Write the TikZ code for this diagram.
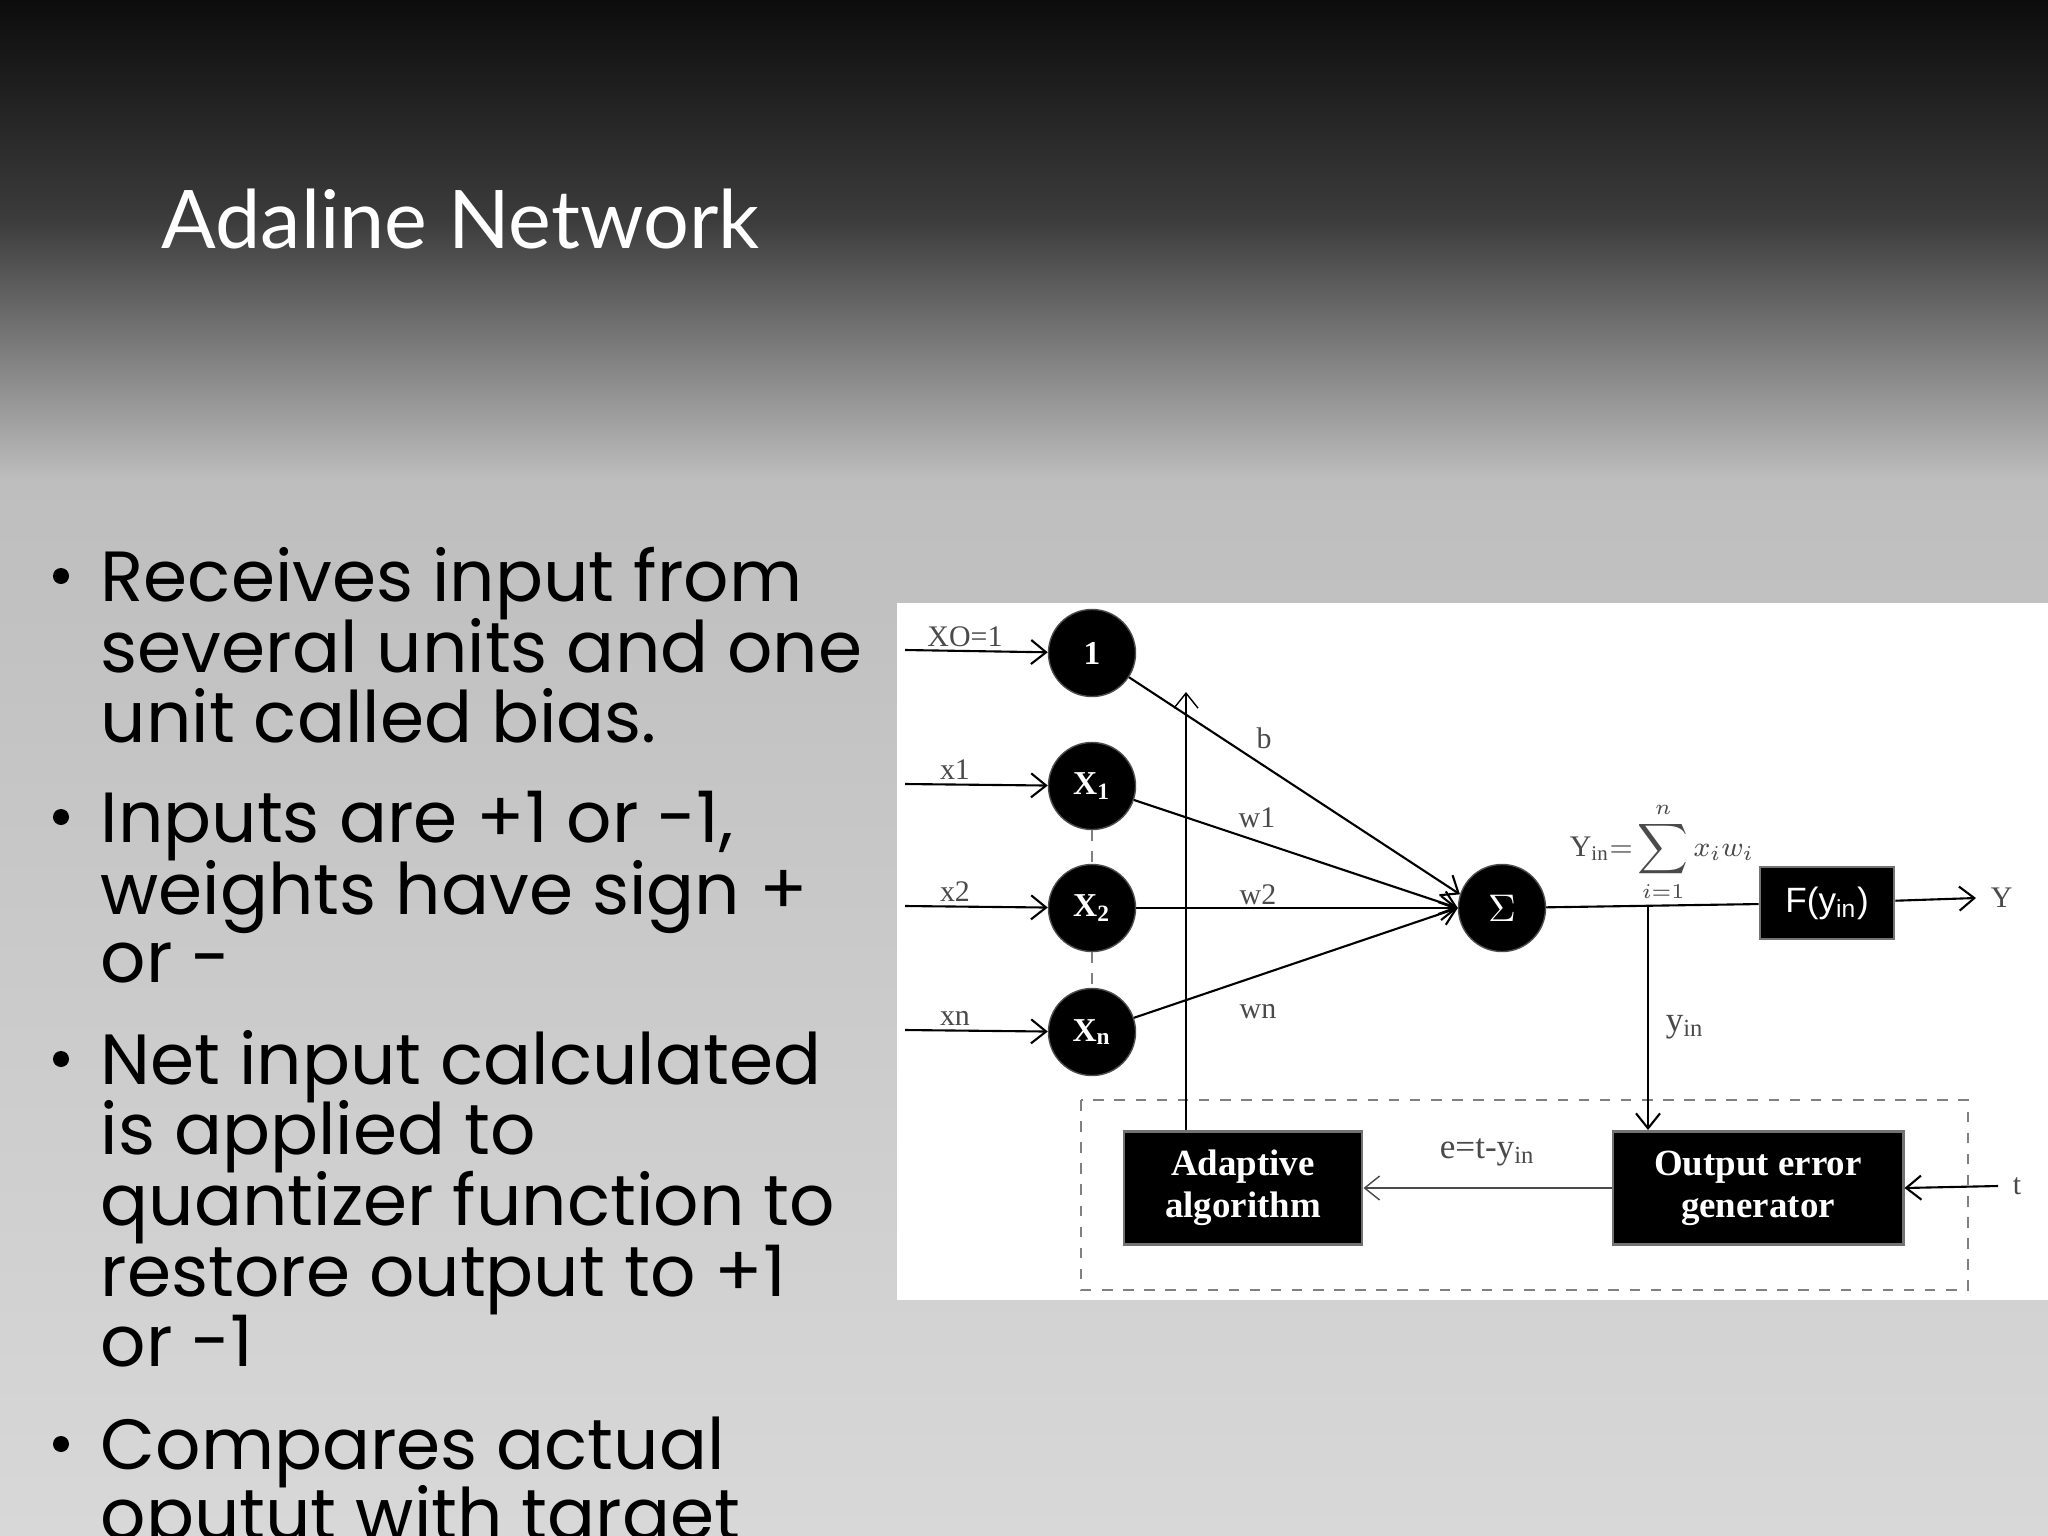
\documentclass[tikz,border=0pt]{standalone}
\usepackage{fontspec}
\setmainfont{Liberation Serif}
\newfontfamily\bodyfont{Poppins}
\newfontfamily\titlefont{Lato}
\newfontfamily\blocksans{Liberation Sans}
\usetikzlibrary{arrows.meta, positioning, calc}

\definecolor{bgA}{HTML}{0C0C0C}
\definecolor{bgB}{HTML}{3C3C3C}
\definecolor{bgC}{HTML}{BEBEBE}
\definecolor{bgD}{HTML}{D8D8D8}
\definecolor{lblgray}{HTML}{4A4A4A}

\tikzset{
  unit/.style={circle, fill=black, draw=black!70, minimum size=0.87cm, inner sep=0pt, text=white, font=\bfseries\fontsize{9.5}{9.5}\selectfont},
  blk/.style={rectangle, fill=black, draw=black!55, line width=0.8pt, text=white, align=center, font=\bfseries\fontsize{10.5}{12}\selectfont},
  lbl/.style={text=lblgray, inner sep=1pt, font=\fontsize{8.5}{8.5}\selectfont},
  wire/.style={->, >={Straight Barb[length=1.5mm, width=2.4mm]}, semithick},
  body/.style={anchor=base west, inner sep=0pt, text=black, font=\bodyfont\fontsize{20.2}{20.2}\selectfont},
  dot/.style={circle, fill=black, minimum size=0.16cm, inner sep=0pt},
}

\begin{document}
\begin{tikzpicture}[x=0.01cm, y=-0.01cm]
    \useasboundingbox (0,0) rectangle (2048,1536);
    \clip (0,0) rectangle (2048,1536);
    \shade[top color=bgA, bottom color=bgB] (0,0) rectangle (2048,221); %背景 上
    \shade[top color=bgB, bottom color=bgC] (0,220) rectangle (2048,481); %背景 中
    \shade[top color=bgC, bottom color=bgD] (0,480) rectangle (2048,1536); %背景 下
    \node[anchor=base west, inner sep=0pt, text=white, font=\titlefont\fontsize{23}{23}\selectfont] (title) at (161,248) {Adaline Network}; %タイトル

    % 箇条書き
    \node[dot] (d1) at (61,576) {};
    \node[body] (l1) at (100,601) {Receives input from};
    \node[body] (l2) at (100,672) {several units and one};
    \node[body] (l3) at (100,742) {unit called bias.};
    \node[dot] (d2) at (61,817) {};
    \node[body] (l4) at (100,842) {Inputs are +1 or -1,};
    \node[body] (l5) at (100,914) {weights have sign +};
    \node[body] (l6) at (100,982) {or -};
    \node[dot] (d3) at (61,1059) {};
    \node[body] (l7) at (100,1084) {Net input calculated};
    \node[body] (l8) at (100,1154) {is applied to};
    \node[body] (l9) at (100,1225) {quantizer function to};
    \node[body] (l10) at (100,1296) {restore output to +1};
    \node[body] (l11) at (100,1366) {or -1};
    \node[dot] (d4) at (61,1444) {};
    \node[body] (l12) at (100,1469) {Compares actual};
    \node[body] (l13) at (100,1539) {oputut with target};

    % 図
    \fill[white] (897,603) rectangle (2048,1300); %白地
    \draw[gray, dashed, thick] (1081,1100) rectangle (1968,1290); %点線の枠

    \node[unit] (bias) at (1092,653) {1};
    \node[unit] (x1) at (1092,786) {X\textsubscript{1}};
    \node[unit] (x2) at (1092,908) {X\textsubscript{2}};
    \node[unit] (xn) at (1092,1032) {X\textsubscript{n}};
    \node[unit, font=\fontsize{11}{11}\selectfont] (sum) at (1502,908) {$\Sigma$};
    \node[blk, minimum width=1.34cm, minimum height=0.72cm, font=\blocksans\fontsize{10}{10}\selectfont] (act) at (1827,903) {F(y\textsubscript{in})};
    \node[blk, minimum width=2.38cm, minimum height=1.13cm] (adapt) at (1243,1188) {Adaptive\\algorithm};
    \node[blk, minimum width=2.9cm, minimum height=1.13cm] (errgen) at (1758,1188) {Output error\\generator};

    \coordinate (in0) at (905,650);
    \coordinate (in1) at (905,784);
    \coordinate (in2) at (905,906);
    \coordinate (in3) at (905,1030);
    \draw[wire] (in0) -- (bias) node[lbl, pos=0.42, above] (lx0) {XO=1}; %入力
    \draw[wire] (in1) -- (x1) node[lbl, pos=0.35, above] (lx1) {x1};
    \draw[wire] (in2) -- (x2) node[lbl, pos=0.35, above] (lx2) {x2};
    \draw[wire] (in3) -- (xn) node[lbl, pos=0.35, above] (lxn) {xn};
    \draw[dashed, gray, thick] (x1) -- (x2);
    \draw[dashed, gray, thick] (x2) -- (xn);

    \draw[wire] (bias) -- (sum.162); %重み
    \draw[wire] (x1) -- (sum.west);
    \draw[wire] (x2) -- (sum.west);
    \draw[wire] (xn) -- (sum.west);
    \node[lbl] (lb) at (1264,738) {b};
    \node[lbl] (lw1) at (1257,818) {w1};
    \node[lbl] (lw2) at (1258,895) {w2};
    \node[lbl] (lwn) at (1258,1012) {wn};

    \coordinate (fb) at (1186,692);
    \draw[wire, thin] (fb |- adapt.north) -- (fb); %フィードバック

    \draw[semithick] (sum) -- (act);
    \node[text=lblgray, font=\fontsize{8.5}{8.5}\selectfont] (form) at (1662,852) {$\mathrm{Y}_{\mathrm{in}}{=}\displaystyle\sum_{i=1}^{n} x_i w_i$};
    \coordinate (br) at (1648,905);
    \draw[wire] (br) -- (br |- errgen.north);
    \node[lbl, font=\fontsize{10}{10}\selectfont] (lyin) at (1685,1027) {y\textsubscript{in}};

    \coordinate (yout) at (1976,898);
    \draw[wire] (act) -- (yout);
    \node[lbl, right=3pt of yout] (ly) {Y};

    \draw[wire, thin, lblgray] (errgen) -- (adapt) node[lbl, midway, above=5pt, font=\fontsize{10}{10}\selectfont] (le) {e=t-y\textsubscript{in}};
    \coordinate (tin) at (1998,1186);
    \draw[wire] (tin) -- (errgen.east);
    \node[lbl, right=3pt of tin] (lt) {t};
\end{tikzpicture}
\end{document}
